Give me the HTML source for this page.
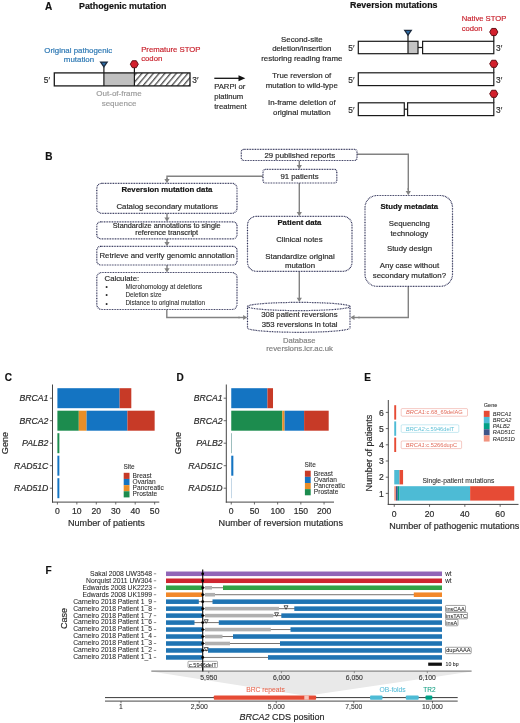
<!DOCTYPE html>
<html><head><meta charset="utf-8"><title>Figure</title>
<style>
html,body{margin:0;padding:0;background:#fff;}
body{width:520px;height:723px;overflow:hidden;}
svg{display:block;font-family:"Liberation Sans",Arial,Helvetica,sans-serif;}
text{stroke:currentColor;stroke-width:0.18px;paint-order:stroke fill;}
text.s{stroke-width:0.07px;}
</style></head><body>
<svg width="520" height="723" viewBox="0 0 520 723">
<defs>
<pattern id="hatch" width="4.4" height="4.4" patternUnits="userSpaceOnUse" patternTransform="translate(1.5 0) rotate(40)">
<rect width="4.4" height="4.4" fill="#fff"/><line x1="0.7" y1="0" x2="0.7" y2="4.4" stroke="#303030" stroke-width="1.1"/>
</pattern>
<clipPath id="hc"><rect x="134.5" y="72.5" width="55.5" height="14"/></clipPath>
</defs>
<rect width="520" height="723" fill="#fff"/>

<g id="panelA">
<text x="45" y="9.6" font-size="10" font-weight="bold" fill="#111" color="#111">A</text>
<text x="79" y="8.6" font-size="8.85" font-weight="bold" fill="#111" color="#111">Pathogenic mutation</text>
<text x="350" y="8.0" font-size="8.85" font-weight="bold" fill="#111" color="#111">Reversion mutations</text>
<text x="78.3" y="53" font-size="7.9" text-anchor="middle" fill="#2b77b3" color="#2b77b3">Original pathogenic</text>
<text x="79" y="62.3" font-size="7.9" text-anchor="middle" fill="#2b77b3" color="#2b77b3">mutation</text>
<text x="141.2" y="52" font-size="7.75" fill="#c9242f" color="#c9242f">Premature STOP</text>
<text x="141.2" y="61.3" font-size="7.75" fill="#c9242f" color="#c9242f">codon</text>
<text x="119" y="96" font-size="8" text-anchor="middle" fill="#9b9b9b" color="#9b9b9b">Out-of-frame</text>
<text x="119" y="105.5" font-size="8" text-anchor="middle" fill="#9b9b9b" color="#9b9b9b">sequence</text>
<text x="43.8" y="83.2" font-size="8.3" fill="#2a2a2a" color="#2a2a2a">5′</text>
<text x="192.3" y="83.2" font-size="8.3" fill="#2a2a2a" color="#2a2a2a">3′</text>
<rect x="134.50" y="72.90" width="55.50" height="13.00" fill="url(#hatch)"/>
<rect x="103.90" y="72.90" width="30.60" height="13.00" fill="#c0c0c0"/>
<rect x="54.30" y="72.90" width="135.70" height="13.00" fill="none" stroke="#1a1a1a" stroke-width="1.3"/>
<line x1="103.90" y1="67.00" x2="103.90" y2="85.90" stroke="#1a1a1a" stroke-width="1.2"/>
<line x1="134.40" y1="68.00" x2="134.40" y2="85.90" stroke="#1a1a1a" stroke-width="1.2"/>
<polygon points="100.60,62.00 107.20,62.00 103.90,66.90" fill="#2d6ca5" stroke="#1b2a3e" stroke-width="1.25" stroke-linejoin="miter"/>
<polygon points="138.30,64.20 136.30,67.66 132.30,67.66 130.30,64.20 132.30,60.74 136.30,60.74" fill="#d3202d" stroke="#5e0c12" stroke-width="0.95"/>
<line x1="214.30" y1="78.30" x2="240.00" y2="78.30" stroke="#111" stroke-width="1.3"/>
<polygon points="238.5,75.3 245.3,78.3 238.5,81.3" fill="#111"/>
<text x="214.2" y="88.9" font-size="7.7" fill="#2a2a2a" color="#2a2a2a">PARPi or</text>
<text x="214.2" y="98.8" font-size="7.7" fill="#2a2a2a" color="#2a2a2a">platinum</text>
<text x="214.2" y="108.5" font-size="7.7" fill="#2a2a2a" color="#2a2a2a">treatment</text>
<text x="301.8" y="41.8" font-size="7.85" text-anchor="middle" fill="#2a2a2a" color="#2a2a2a">Second-site</text>
<text x="301.8" y="51.3" font-size="7.85" text-anchor="middle" fill="#2a2a2a" color="#2a2a2a">deletion/insertion</text>
<text x="301.8" y="60.8" font-size="7.85" text-anchor="middle" fill="#2a2a2a" color="#2a2a2a">restoring reading frame</text>
<text x="301.8" y="77.5" font-size="7.85" text-anchor="middle" fill="#2a2a2a" color="#2a2a2a">True reversion of</text>
<text x="301.8" y="87.5" font-size="7.85" text-anchor="middle" fill="#2a2a2a" color="#2a2a2a">mutation to wild-type</text>
<text x="301.8" y="105.2" font-size="7.85" text-anchor="middle" fill="#2a2a2a" color="#2a2a2a">In-frame deletion of</text>
<text x="301.8" y="115.2" font-size="7.85" text-anchor="middle" fill="#2a2a2a" color="#2a2a2a">original mutation</text>
<text x="461.8" y="21.3" font-size="7.65" fill="#c9242f" color="#c9242f">Native STOP</text>
<text x="461.8" y="30.6" font-size="7.65" fill="#c9242f" color="#c9242f">codon</text>
<text x="348.3" y="50.5" font-size="8.3" fill="#2a2a2a" color="#2a2a2a">5′</text>
<text x="496.1" y="50.5" font-size="8.3" fill="#2a2a2a" color="#2a2a2a">3′</text>
<text x="348.3" y="82.5" font-size="8.3" fill="#2a2a2a" color="#2a2a2a">5′</text>
<text x="496.1" y="82.5" font-size="8.3" fill="#2a2a2a" color="#2a2a2a">3′</text>
<text x="348.3" y="112.5" font-size="8.3" fill="#2a2a2a" color="#2a2a2a">5′</text>
<text x="496.1" y="112.5" font-size="8.3" fill="#2a2a2a" color="#2a2a2a">3′</text>
<rect x="408.00" y="41.30" width="10.00" height="12.40" fill="#c4c4c4"/>
<rect x="358.30" y="41.30" width="59.70" height="12.40" fill="none" stroke="#1a1a1a" stroke-width="1.2"/>
<line x1="408.00" y1="35.00" x2="408.00" y2="53.70" stroke="#1a1a1a" stroke-width="1.2"/>
<line x1="418.00" y1="47.50" x2="422.60" y2="47.50" stroke="#1a1a1a" stroke-width="1.2"/>
<rect x="422.60" y="41.30" width="71.20" height="12.40" fill="none" stroke="#1a1a1a" stroke-width="1.2"/>
<polygon points="404.70,30.30 411.30,30.30 408.00,35.20" fill="#2d6ca5" stroke="#1b2a3e" stroke-width="1.25" stroke-linejoin="miter"/>
<line x1="493.80" y1="35.00" x2="493.80" y2="41.30" stroke="#1a1a1a" stroke-width="1.2"/>
<polygon points="497.90,32.00 495.85,35.55 491.75,35.55 489.70,32.00 491.75,28.45 495.85,28.45" fill="#d3202d" stroke="#5e0c12" stroke-width="0.95"/>
<rect x="358.30" y="72.80" width="135.50" height="12.80" fill="none" stroke="#1a1a1a" stroke-width="1.2"/>
<line x1="493.80" y1="67.00" x2="493.80" y2="72.80" stroke="#1a1a1a" stroke-width="1.2"/>
<polygon points="497.90,63.80 495.85,67.35 491.75,67.35 489.70,63.80 491.75,60.25 495.85,60.25" fill="#d3202d" stroke="#5e0c12" stroke-width="0.95"/>
<rect x="358.30" y="102.80" width="46.00" height="12.80" fill="none" stroke="#1a1a1a" stroke-width="1.2"/>
<line x1="404.30" y1="109.20" x2="407.60" y2="109.20" stroke="#1a1a1a" stroke-width="1.2"/>
<rect x="407.60" y="102.80" width="86.20" height="12.80" fill="none" stroke="#1a1a1a" stroke-width="1.2"/>
<line x1="493.80" y1="97.00" x2="493.80" y2="102.80" stroke="#1a1a1a" stroke-width="1.2"/>
<polygon points="497.90,93.80 495.85,97.35 491.75,97.35 489.70,93.80 491.75,90.25 495.85,90.25" fill="#d3202d" stroke="#5e0c12" stroke-width="0.95"/>
</g>
<g id="panelB">
<text x="45.3" y="160.1" font-size="10" font-weight="bold" fill="#111" color="#111">B</text>
<line x1="299.30" y1="160.50" x2="299.30" y2="166.30" stroke="#828282" stroke-width="1.4"/>
<polygon points="296.70,165.10 301.90,165.10 299.30,169.30" fill="#828282"/>
<polyline points="263,176.2 167,176.2 167,180" fill="none" stroke="#828282" stroke-width="1.4"/>
<line x1="167.00" y1="178.00" x2="167.00" y2="180.20" stroke="#828282" stroke-width="1.4"/>
<polygon points="164.40,179.00 169.60,179.00 167.00,183.20" fill="#828282"/>
<line x1="167.00" y1="213.30" x2="167.00" y2="218.70" stroke="#828282" stroke-width="1.4"/>
<polygon points="164.40,217.50 169.60,217.50 167.00,221.70" fill="#828282"/>
<line x1="167.00" y1="238.80" x2="167.00" y2="243.20" stroke="#828282" stroke-width="1.4"/>
<polygon points="164.40,242.00 169.60,242.00 167.00,246.20" fill="#828282"/>
<line x1="167.00" y1="265.00" x2="167.00" y2="269.50" stroke="#828282" stroke-width="1.4"/>
<polygon points="164.40,268.30 169.60,268.30 167.00,272.50" fill="#828282"/>
<line x1="299.30" y1="183.00" x2="299.30" y2="213.20" stroke="#828282" stroke-width="1.4"/>
<polygon points="296.70,212.00 301.90,212.00 299.30,216.20" fill="#828282"/>
<line x1="299.30" y1="271.30" x2="299.30" y2="299.00" stroke="#828282" stroke-width="1.4"/>
<polygon points="296.70,297.80 301.90,297.80 299.30,302.00" fill="#828282"/>
<polyline points="357,154.3 408.3,154.3 408.3,190" fill="none" stroke="#828282" stroke-width="1.4"/>
<line x1="408.30" y1="188.00" x2="408.30" y2="192.30" stroke="#828282" stroke-width="1.4"/>
<polygon points="405.70,191.10 410.90,191.10 408.30,195.30" fill="#828282"/>
<polyline points="166.8,309.5 166.8,317.5 240,317.5" fill="none" stroke="#828282" stroke-width="1.4"/>
<line x1="238.00" y1="317.50" x2="244.30" y2="317.50" stroke="#828282" stroke-width="1.4"/>
<polygon points="243.10,314.90 243.10,320.10 247.30,317.50" fill="#828282"/>
<polyline points="408.3,286.3 408.3,317.5 358,317.5" fill="none" stroke="#828282" stroke-width="1.4"/>
<line x1="360.00" y1="317.50" x2="353.30" y2="317.50" stroke="#828282" stroke-width="1.4"/>
<polygon points="354.50,314.90 354.50,320.10 350.30,317.50" fill="#828282"/>
<rect x="241.30" y="149.30" width="115.70" height="11.20" rx="2.5" fill="#fff" stroke="#25274f" stroke-width="1.2" stroke-dasharray="0.85 0.77"/>
<text x="299.8" y="157.6" font-size="7.8" text-anchor="middle" fill="#2a2a2a" color="#2a2a2a">29 published reports</text>
<rect x="263.00" y="169.30" width="73.80" height="13.70" rx="2.5" fill="#fff" stroke="#25274f" stroke-width="1.2" stroke-dasharray="0.85 0.77"/>
<text x="299.5" y="178.8" font-size="7.8" text-anchor="middle" fill="#2a2a2a" color="#2a2a2a">91 patients</text>
<rect x="96.80" y="183.30" width="140.20" height="30.00" rx="5" fill="#fff" stroke="#25274f" stroke-width="1.2" stroke-dasharray="0.85 0.77"/>
<text x="166.9" y="192.1" font-size="7.8" text-anchor="middle" font-weight="bold" fill="#111" color="#111">Reversion mutation data</text>
<text x="167.2" y="208.8" font-size="7.85" text-anchor="middle" fill="#2a2a2a" color="#2a2a2a">Catalog secondary mutations</text>
<rect x="96.80" y="221.80" width="140.20" height="17.00" rx="4" fill="#fff" stroke="#25274f" stroke-width="1.2" stroke-dasharray="0.85 0.77"/>
<text x="166.7" y="228.3" font-size="7.3" text-anchor="middle" fill="#2a2a2a" color="#2a2a2a">Standardize annotations to single</text>
<text x="166.7" y="235.2" font-size="7.3" text-anchor="middle" fill="#2a2a2a" color="#2a2a2a">reference transcript</text>
<rect x="96.80" y="246.30" width="140.20" height="18.70" rx="4" fill="#fff" stroke="#25274f" stroke-width="1.2" stroke-dasharray="0.85 0.77"/>
<text x="167.1" y="257.6" font-size="7.8" text-anchor="middle" fill="#2a2a2a" color="#2a2a2a">Retrieve and verify genomic annotation</text>
<rect x="96.80" y="272.50" width="140.20" height="37.00" rx="5" fill="#fff" stroke="#25274f" stroke-width="1.2" stroke-dasharray="0.85 0.77"/>
<text x="104.5" y="280.8" font-size="7.8" fill="#2a2a2a" color="#2a2a2a">Calculate:</text>
<text x="105.6" y="289.1" font-size="6.5" fill="#2a2a2a" color="#2a2a2a" class="s">•</text>
<text x="125.5" y="288.8" font-size="6.3" fill="#2a2a2a" color="#2a2a2a" class="s">Microhomology at deletions</text>
<text x="105.6" y="297.40000000000003" font-size="6.5" fill="#2a2a2a" color="#2a2a2a" class="s">•</text>
<text x="125.5" y="297.1" font-size="6.3" fill="#2a2a2a" color="#2a2a2a" class="s">Deletion size</text>
<text x="105.6" y="305.70000000000005" font-size="6.5" fill="#2a2a2a" color="#2a2a2a" class="s">•</text>
<text x="125.5" y="305.40000000000003" font-size="6.3" fill="#2a2a2a" color="#2a2a2a" class="s">Distance to original mutation</text>
<rect x="247.50" y="216.30" width="104.50" height="55.00" rx="9" fill="#fff" stroke="#25274f" stroke-width="1.2" stroke-dasharray="0.85 0.77"/>
<text x="299.4" y="225.1" font-size="7.75" text-anchor="middle" font-weight="bold" fill="#111" color="#111">Patient data</text>
<text x="299.4" y="241.8" font-size="7.8" text-anchor="middle" fill="#2a2a2a" color="#2a2a2a">Clinical notes</text>
<text x="300" y="258.8" font-size="7.85" text-anchor="middle" fill="#2a2a2a" color="#2a2a2a">Standardize original</text>
<text x="300" y="268.2" font-size="7.85" text-anchor="middle" fill="#2a2a2a" color="#2a2a2a">mutation</text>
<rect x="365.00" y="195.50" width="87.50" height="90.80" rx="12" fill="#fff" stroke="#25274f" stroke-width="1.2" stroke-dasharray="0.85 0.77"/>
<text x="409.3" y="209.3" font-size="7.75" text-anchor="middle" font-weight="bold" fill="#111" color="#111">Study metadata</text>
<text x="409.3" y="225.8" font-size="7.8" text-anchor="middle" fill="#2a2a2a" color="#2a2a2a">Sequencing</text>
<text x="409.3" y="235.8" font-size="7.8" text-anchor="middle" fill="#2a2a2a" color="#2a2a2a">technology</text>
<text x="409.5" y="251.3" font-size="7.8" text-anchor="middle" fill="#2a2a2a" color="#2a2a2a">Study design</text>
<text x="409.5" y="267.6" font-size="7.85" text-anchor="middle" fill="#2a2a2a" color="#2a2a2a">Any case without</text>
<text x="409.4" y="277.6" font-size="7.9" text-anchor="middle" fill="#2a2a2a" color="#2a2a2a">secondary mutation?</text>
<path d="M247.5,306.5 L247.5,328 A51.25,4.3 0 0 0 350,328 L350,306.5" fill="#fff" stroke="#25274f" stroke-width="1.2" stroke-dasharray="0.85 0.77"/>
<ellipse cx="298.75" cy="306.5" rx="51.25" ry="4.1" fill="#fff" stroke="#25274f" stroke-width="1.2" stroke-dasharray="0.85 0.77"/>
<text x="299.4" y="317.2" font-size="7.75" text-anchor="middle" fill="#2a2a2a" color="#2a2a2a">308 patient reversions</text>
<text x="299.6" y="327.2" font-size="7.75" text-anchor="middle" fill="#2a2a2a" color="#2a2a2a">353 reversions in total</text>
<text x="299.3" y="342.6" font-size="7.6" text-anchor="middle" fill="#808080" color="#808080">Database</text>
<text x="299.6" y="351.4" font-size="7.8" text-anchor="middle" fill="#808080" color="#808080">reversions.icr.ac.uk</text>
</g>
<g id="panelC">
<text x="4.8" y="381.3" font-size="10" font-weight="bold" fill="#111" color="#111">C</text>
<text x="48.4" y="401.2" font-size="8.7" text-anchor="end" font-style="italic" fill="#2a2a2a" color="#2a2a2a">BRCA1</text>
<line x1="49.90" y1="398.20" x2="52.50" y2="398.20" stroke="#454545" stroke-width="0.8"/>
<rect x="57.40" y="388.20" width="62.24" height="20.00" fill="#1474c2"/>
<rect x="119.64" y="388.20" width="11.67" height="20.00" fill="#c73a27"/>
<text x="48.4" y="423.7" font-size="8.7" text-anchor="end" font-style="italic" fill="#2a2a2a" color="#2a2a2a">BRCA2</text>
<line x1="49.90" y1="420.70" x2="52.50" y2="420.70" stroke="#454545" stroke-width="0.8"/>
<rect x="57.40" y="410.70" width="21.39" height="20.00" fill="#1c8c4e"/>
<rect x="78.80" y="410.70" width="7.78" height="20.00" fill="#e98e28"/>
<rect x="86.58" y="410.70" width="40.84" height="20.00" fill="#1474c2"/>
<rect x="127.42" y="410.70" width="27.23" height="20.00" fill="#c73a27"/>
<text x="48.4" y="446.2" font-size="8.7" text-anchor="end" font-style="italic" fill="#2a2a2a" color="#2a2a2a">PALB2</text>
<line x1="49.90" y1="443.20" x2="52.50" y2="443.20" stroke="#454545" stroke-width="0.8"/>
<rect x="57.40" y="433.20" width="1.95" height="20.00" fill="#1c8c4e"/>
<text x="48.4" y="468.7" font-size="8.7" text-anchor="end" font-style="italic" fill="#2a2a2a" color="#2a2a2a">RAD51C</text>
<line x1="49.90" y1="465.70" x2="52.50" y2="465.70" stroke="#454545" stroke-width="0.8"/>
<rect x="57.40" y="455.70" width="1.95" height="20.00" fill="#1474c2"/>
<text x="48.4" y="491.2" font-size="8.7" text-anchor="end" font-style="italic" fill="#2a2a2a" color="#2a2a2a">RAD51D</text>
<line x1="49.90" y1="488.20" x2="52.50" y2="488.20" stroke="#454545" stroke-width="0.8"/>
<rect x="57.40" y="478.20" width="1.95" height="20.00" fill="#1474c2"/>
<line x1="52.50" y1="384.50" x2="52.50" y2="502.60" stroke="#454545" stroke-width="1.0"/>
<line x1="52.00" y1="502.10" x2="159.30" y2="502.10" stroke="#454545" stroke-width="1.0"/>
<line x1="57.40" y1="502.10" x2="57.40" y2="504.50" stroke="#454545" stroke-width="0.8"/>
<text x="57.4" y="513.7" font-size="8.6" text-anchor="middle" fill="#2a2a2a" color="#2a2a2a">0</text>
<line x1="76.85" y1="502.10" x2="76.85" y2="504.50" stroke="#454545" stroke-width="0.8"/>
<text x="76.85" y="513.7" font-size="8.6" text-anchor="middle" fill="#2a2a2a" color="#2a2a2a">10</text>
<line x1="96.30" y1="502.10" x2="96.30" y2="504.50" stroke="#454545" stroke-width="0.8"/>
<text x="96.3" y="513.7" font-size="8.6" text-anchor="middle" fill="#2a2a2a" color="#2a2a2a">20</text>
<line x1="115.75" y1="502.10" x2="115.75" y2="504.50" stroke="#454545" stroke-width="0.8"/>
<text x="115.75" y="513.7" font-size="8.6" text-anchor="middle" fill="#2a2a2a" color="#2a2a2a">30</text>
<line x1="135.20" y1="502.10" x2="135.20" y2="504.50" stroke="#454545" stroke-width="0.8"/>
<text x="135.2" y="513.7" font-size="8.6" text-anchor="middle" fill="#2a2a2a" color="#2a2a2a">40</text>
<line x1="154.65" y1="502.10" x2="154.65" y2="504.50" stroke="#454545" stroke-width="0.8"/>
<text x="154.65" y="513.7" font-size="8.6" text-anchor="middle" fill="#2a2a2a" color="#2a2a2a">50</text>
<text x="68" y="525.9" font-size="9.1" fill="#2a2a2a" color="#2a2a2a">Number of patients</text>
<text transform="translate(7.6,443) rotate(-90)" font-size="9.1" text-anchor="middle" fill="#2a2a2a" color="#2a2a2a">Gene</text>
<text x="123.4" y="468.8" font-size="6.5" fill="#2a2a2a" color="#2a2a2a" class="s">Site</text>
<rect x="123.70" y="472.80" width="5.80" height="6.15" fill="#c73a27"/>
<text x="132.6" y="478.0" font-size="6.6" fill="#2a2a2a" color="#2a2a2a" class="s">Breast</text>
<rect x="123.70" y="478.95" width="5.80" height="6.15" fill="#1474c2"/>
<text x="132.6" y="484.15" font-size="6.6" fill="#2a2a2a" color="#2a2a2a" class="s">Ovarian</text>
<rect x="123.70" y="485.10" width="5.80" height="6.15" fill="#e98e28"/>
<text x="132.6" y="490.3" font-size="6.6" fill="#2a2a2a" color="#2a2a2a" class="s">Pancreatic</text>
<rect x="123.70" y="491.25" width="5.80" height="6.15" fill="#1c8c4e"/>
<text x="132.6" y="496.45" font-size="6.6" fill="#2a2a2a" color="#2a2a2a" class="s">Prostate</text>
</g>
<g id="panelD">
<text x="176.6" y="381.3" font-size="10" font-weight="bold" fill="#111" color="#111">D</text>
<text x="222.6" y="401.2" font-size="8.7" text-anchor="end" font-style="italic" fill="#2a2a2a" color="#2a2a2a">BRCA1</text>
<line x1="223.70" y1="398.20" x2="226.30" y2="398.20" stroke="#454545" stroke-width="0.8"/>
<rect x="231.25" y="388.20" width="36.19" height="20.00" fill="#1474c2"/>
<rect x="267.44" y="388.20" width="5.57" height="20.00" fill="#c73a27"/>
<text x="222.6" y="423.7" font-size="8.7" text-anchor="end" font-style="italic" fill="#2a2a2a" color="#2a2a2a">BRCA2</text>
<line x1="223.70" y1="420.70" x2="226.30" y2="420.70" stroke="#454545" stroke-width="0.8"/>
<rect x="231.25" y="410.70" width="51.04" height="20.00" fill="#1c8c4e"/>
<rect x="282.29" y="410.70" width="2.32" height="20.00" fill="#e98e28"/>
<rect x="284.61" y="410.70" width="19.49" height="20.00" fill="#1474c2"/>
<rect x="304.10" y="410.70" width="24.59" height="20.00" fill="#c73a27"/>
<text x="222.6" y="446.2" font-size="8.7" text-anchor="end" font-style="italic" fill="#2a2a2a" color="#2a2a2a">PALB2</text>
<line x1="223.70" y1="443.20" x2="226.30" y2="443.20" stroke="#454545" stroke-width="0.8"/>
<rect x="231.25" y="433.20" width="0.56" height="20.00" fill="#4f8a8a"/>
<text x="222.6" y="468.7" font-size="8.7" text-anchor="end" font-style="italic" fill="#2a2a2a" color="#2a2a2a">RAD51C</text>
<line x1="223.70" y1="465.70" x2="226.30" y2="465.70" stroke="#454545" stroke-width="0.8"/>
<rect x="231.25" y="455.70" width="2.09" height="20.00" fill="#1474c2"/>
<text x="222.6" y="491.2" font-size="8.7" text-anchor="end" font-style="italic" fill="#2a2a2a" color="#2a2a2a">RAD51D</text>
<line x1="223.70" y1="488.20" x2="226.30" y2="488.20" stroke="#454545" stroke-width="0.8"/>
<rect x="231.25" y="478.20" width="0.46" height="20.00" fill="#7fa8c9"/>
<line x1="226.30" y1="384.50" x2="226.30" y2="502.60" stroke="#454545" stroke-width="1.0"/>
<line x1="225.80" y1="502.10" x2="334.00" y2="502.10" stroke="#454545" stroke-width="1.0"/>
<line x1="231.25" y1="502.10" x2="231.25" y2="504.50" stroke="#454545" stroke-width="0.8"/>
<text x="231.25" y="513.7" font-size="8.6" text-anchor="middle" fill="#2a2a2a" color="#2a2a2a">0</text>
<line x1="254.45" y1="502.10" x2="254.45" y2="504.50" stroke="#454545" stroke-width="0.8"/>
<text x="254.45" y="513.7" font-size="8.6" text-anchor="middle" fill="#2a2a2a" color="#2a2a2a">50</text>
<line x1="277.65" y1="502.10" x2="277.65" y2="504.50" stroke="#454545" stroke-width="0.8"/>
<text x="277.65" y="513.7" font-size="8.6" text-anchor="middle" fill="#2a2a2a" color="#2a2a2a">100</text>
<line x1="300.85" y1="502.10" x2="300.85" y2="504.50" stroke="#454545" stroke-width="0.8"/>
<text x="300.85" y="513.7" font-size="8.6" text-anchor="middle" fill="#2a2a2a" color="#2a2a2a">150</text>
<line x1="324.05" y1="502.10" x2="324.05" y2="504.50" stroke="#454545" stroke-width="0.8"/>
<text x="324.05" y="513.7" font-size="8.6" text-anchor="middle" fill="#2a2a2a" color="#2a2a2a">200</text>
<text x="218.6" y="525.9" font-size="9.1" fill="#2a2a2a" color="#2a2a2a">Number of reversion mutations</text>
<text transform="translate(181.1,443) rotate(-90)" font-size="9.1" text-anchor="middle" fill="#2a2a2a" color="#2a2a2a">Gene</text>
<text x="304.6" y="466.7" font-size="6.5" fill="#2a2a2a" color="#2a2a2a" class="s">Site</text>
<rect x="304.90" y="470.70" width="5.80" height="6.15" fill="#c73a27"/>
<text x="313.8" y="475.9" font-size="6.6" fill="#2a2a2a" color="#2a2a2a" class="s">Breast</text>
<rect x="304.90" y="476.85" width="5.80" height="6.15" fill="#1474c2"/>
<text x="313.8" y="482.04999999999995" font-size="6.6" fill="#2a2a2a" color="#2a2a2a" class="s">Ovarian</text>
<rect x="304.90" y="483.00" width="5.80" height="6.15" fill="#e98e28"/>
<text x="313.8" y="488.2" font-size="6.6" fill="#2a2a2a" color="#2a2a2a" class="s">Pancreatic</text>
<rect x="304.90" y="489.15" width="5.80" height="6.15" fill="#1c8c4e"/>
<text x="313.8" y="494.34999999999997" font-size="6.6" fill="#2a2a2a" color="#2a2a2a" class="s">Prostate</text>
</g>
<g id="panelE">
<text x="364.2" y="381.3" font-size="10" font-weight="bold" fill="#111" color="#111">E</text>
<rect x="394.25" y="405.20" width="1.91" height="14.40" fill="#E64B35"/>
<rect x="394.25" y="421.40" width="1.91" height="14.40" fill="#4DBBD5"/>
<rect x="394.25" y="437.60" width="1.91" height="14.40" fill="#E64B35"/>
<rect x="394.25" y="470.00" width="5.29" height="14.40" fill="#4DBBD5"/>
<rect x="399.55" y="470.00" width="3.53" height="14.40" fill="#E64B35"/>
<rect x="394.25" y="486.20" width="1.76" height="14.40" fill="#f1937f"/>
<rect x="396.01" y="486.20" width="1.76" height="14.40" fill="#3C5488"/>
<rect x="397.78" y="486.20" width="1.76" height="14.40" fill="#00A087"/>
<rect x="399.55" y="486.20" width="70.60" height="14.40" fill="#4DBBD5"/>
<rect x="470.14" y="486.20" width="44.12" height="14.40" fill="#E64B35"/>
<line x1="385.80" y1="493.40" x2="388.30" y2="493.40" stroke="#454545" stroke-width="0.8"/>
<text x="381.3" y="496.5" font-size="8.6" text-anchor="middle" fill="#2a2a2a" color="#2a2a2a">1</text>
<line x1="385.80" y1="477.20" x2="388.30" y2="477.20" stroke="#454545" stroke-width="0.8"/>
<text x="381.3" y="480.3" font-size="8.6" text-anchor="middle" fill="#2a2a2a" color="#2a2a2a">2</text>
<line x1="385.80" y1="461.00" x2="388.30" y2="461.00" stroke="#454545" stroke-width="0.8"/>
<text x="381.3" y="464.1" font-size="8.6" text-anchor="middle" fill="#2a2a2a" color="#2a2a2a">3</text>
<line x1="385.80" y1="444.80" x2="388.30" y2="444.80" stroke="#454545" stroke-width="0.8"/>
<text x="381.3" y="447.9" font-size="8.6" text-anchor="middle" fill="#2a2a2a" color="#2a2a2a">4</text>
<line x1="385.80" y1="428.60" x2="388.30" y2="428.60" stroke="#454545" stroke-width="0.8"/>
<text x="381.3" y="431.7" font-size="8.6" text-anchor="middle" fill="#2a2a2a" color="#2a2a2a">5</text>
<line x1="385.80" y1="412.40" x2="388.30" y2="412.40" stroke="#454545" stroke-width="0.8"/>
<text x="381.3" y="415.5" font-size="8.6" text-anchor="middle" fill="#2a2a2a" color="#2a2a2a">6</text>
<line x1="388.30" y1="400.00" x2="388.30" y2="504.95" stroke="#454545" stroke-width="1.0"/>
<line x1="387.75" y1="504.40" x2="518.50" y2="504.40" stroke="#454545" stroke-width="1.0"/>
<line x1="394.25" y1="504.40" x2="394.25" y2="506.80" stroke="#454545" stroke-width="0.8"/>
<text x="394.25" y="516.6" font-size="8.6" text-anchor="middle" fill="#2a2a2a" color="#2a2a2a">0</text>
<line x1="429.55" y1="504.40" x2="429.55" y2="506.80" stroke="#454545" stroke-width="0.8"/>
<text x="429.55" y="516.6" font-size="8.6" text-anchor="middle" fill="#2a2a2a" color="#2a2a2a">20</text>
<line x1="464.85" y1="504.40" x2="464.85" y2="506.80" stroke="#454545" stroke-width="0.8"/>
<text x="464.85" y="516.6" font-size="8.6" text-anchor="middle" fill="#2a2a2a" color="#2a2a2a">40</text>
<line x1="500.15" y1="504.40" x2="500.15" y2="506.80" stroke="#454545" stroke-width="0.8"/>
<text x="500.15" y="516.6" font-size="8.6" text-anchor="middle" fill="#2a2a2a" color="#2a2a2a">60</text>
<text x="454.2" y="529.1" font-size="9.0" text-anchor="middle" fill="#2a2a2a" color="#2a2a2a">Number of pathogenic mutations</text>
<text transform="translate(372.1,453) rotate(-90)" font-size="9.1" text-anchor="middle" fill="#2a2a2a" color="#2a2a2a">Number of patients</text>
<rect x="401.20" y="408.60" width="66.30" height="7.60" fill="#fff" stroke="#e26b5a" stroke-width="0.6" rx="1" stroke-opacity="0.6"/>
<text x="434.35" y="414.40" font-size="5.7" text-anchor="middle" fill="#e26b5a" style="stroke-width:0"><tspan font-style="italic">BRCA1</tspan>:c.68_69delAG</text>
<rect x="401.20" y="424.80" width="57.60" height="7.60" fill="#fff" stroke="#62c2d8" stroke-width="0.6" rx="1" stroke-opacity="0.6"/>
<text x="430.00" y="430.60" font-size="5.7" text-anchor="middle" fill="#62c2d8" style="stroke-width:0"><tspan font-style="italic">BRCA2</tspan>:c.5946delT</text>
<rect x="401.20" y="441.00" width="60.40" height="7.60" fill="#fff" stroke="#e26b5a" stroke-width="0.6" rx="1" stroke-opacity="0.6"/>
<text x="431.40" y="446.80" font-size="5.7" text-anchor="middle" fill="#e26b5a" style="stroke-width:0"><tspan font-style="italic">BRCA1</tspan>:c.5266dupC</text>
<text x="422.5" y="482.6" font-size="6.7" fill="#2a2a2a" color="#2a2a2a" class="s">Single-patient mutations</text>
<text x="483.8" y="406.7" font-size="5.5" fill="#2a2a2a" color="#2a2a2a" class="s">Gene</text>
<rect x="483.80" y="410.80" width="5.80" height="6.15" fill="#E64B35"/>
<text x="492.8" y="416.0" font-size="5.6" font-style="italic" fill="#2a2a2a" color="#2a2a2a" class="s">BRCA1</text>
<rect x="483.80" y="416.95" width="5.80" height="6.15" fill="#4DBBD5"/>
<text x="492.8" y="422.15" font-size="5.6" font-style="italic" fill="#2a2a2a" color="#2a2a2a" class="s">BRCA2</text>
<rect x="483.80" y="423.10" width="5.80" height="6.15" fill="#00A087"/>
<text x="492.8" y="428.3" font-size="5.6" font-style="italic" fill="#2a2a2a" color="#2a2a2a" class="s">PALB2</text>
<rect x="483.80" y="429.25" width="5.80" height="6.15" fill="#3C5488"/>
<text x="492.8" y="434.45" font-size="5.6" font-style="italic" fill="#2a2a2a" color="#2a2a2a" class="s">RAD51C</text>
<rect x="483.80" y="435.40" width="5.80" height="6.15" fill="#f1937f"/>
<text x="492.8" y="440.6" font-size="5.6" font-style="italic" fill="#2a2a2a" color="#2a2a2a" class="s">RAD51D</text>
</g>
<g id="panelF">
<text x="45.4" y="573.8" font-size="10" font-weight="bold" fill="#111" color="#111">F</text>
<text x="152" y="575.6999999999999" font-size="6.75" text-anchor="end" fill="#2a2a2a" color="#2a2a2a" class="s">Sakai 2008 UW3548</text>
<line x1="153.80" y1="573.80" x2="156.20" y2="573.80" stroke="#454545" stroke-width="0.6"/>
<text x="152" y="582.67" font-size="6.75" text-anchor="end" fill="#2a2a2a" color="#2a2a2a" class="s">Norquist 2011 UW304</text>
<line x1="153.80" y1="580.77" x2="156.20" y2="580.77" stroke="#454545" stroke-width="0.6"/>
<text x="152" y="589.64" font-size="6.75" text-anchor="end" fill="#2a2a2a" color="#2a2a2a" class="s">Edwards 2008 UK2223</text>
<line x1="153.80" y1="587.74" x2="156.20" y2="587.74" stroke="#454545" stroke-width="0.6"/>
<text x="152" y="596.6099999999999" font-size="6.75" text-anchor="end" fill="#2a2a2a" color="#2a2a2a" class="s">Edwards 2008 UK1999</text>
<line x1="153.80" y1="594.71" x2="156.20" y2="594.71" stroke="#454545" stroke-width="0.6"/>
<text x="152" y="603.5799999999999" font-size="6.75" text-anchor="end" fill="#2a2a2a" color="#2a2a2a" class="s">Carneiro 2018 Patient 1_9</text>
<line x1="153.80" y1="601.68" x2="156.20" y2="601.68" stroke="#454545" stroke-width="0.6"/>
<text x="152" y="610.55" font-size="6.75" text-anchor="end" fill="#2a2a2a" color="#2a2a2a" class="s">Carneiro 2018 Patient 1_8</text>
<line x1="153.80" y1="608.65" x2="156.20" y2="608.65" stroke="#454545" stroke-width="0.6"/>
<text x="152" y="617.52" font-size="6.75" text-anchor="end" fill="#2a2a2a" color="#2a2a2a" class="s">Carneiro 2018 Patient 1_7</text>
<line x1="153.80" y1="615.62" x2="156.20" y2="615.62" stroke="#454545" stroke-width="0.6"/>
<text x="152" y="624.4899999999999" font-size="6.75" text-anchor="end" fill="#2a2a2a" color="#2a2a2a" class="s">Carneiro 2018 Patient 1_6</text>
<line x1="153.80" y1="622.59" x2="156.20" y2="622.59" stroke="#454545" stroke-width="0.6"/>
<text x="152" y="631.4599999999999" font-size="6.75" text-anchor="end" fill="#2a2a2a" color="#2a2a2a" class="s">Carneiro 2018 Patient 1_5</text>
<line x1="153.80" y1="629.56" x2="156.20" y2="629.56" stroke="#454545" stroke-width="0.6"/>
<text x="152" y="638.43" font-size="6.75" text-anchor="end" fill="#2a2a2a" color="#2a2a2a" class="s">Carneiro 2018 Patient 1_4</text>
<line x1="153.80" y1="636.53" x2="156.20" y2="636.53" stroke="#454545" stroke-width="0.6"/>
<text x="152" y="645.4" font-size="6.75" text-anchor="end" fill="#2a2a2a" color="#2a2a2a" class="s">Carneiro 2018 Patient 1_3</text>
<line x1="153.80" y1="643.50" x2="156.20" y2="643.50" stroke="#454545" stroke-width="0.6"/>
<text x="152" y="652.3699999999999" font-size="6.75" text-anchor="end" fill="#2a2a2a" color="#2a2a2a" class="s">Carneiro 2018 Patient 1_2</text>
<line x1="153.80" y1="650.47" x2="156.20" y2="650.47" stroke="#454545" stroke-width="0.6"/>
<text x="152" y="659.3399999999999" font-size="6.75" text-anchor="end" fill="#2a2a2a" color="#2a2a2a" class="s">Carneiro 2018 Patient 1_1</text>
<line x1="153.80" y1="657.44" x2="156.20" y2="657.44" stroke="#454545" stroke-width="0.6"/>
<rect x="166.00" y="571.52" width="276.00" height="4.55" fill="#9166b8"/>
<rect x="166.00" y="578.50" width="276.00" height="4.55" fill="#cf2530"/>
<line x1="166.00" y1="587.74" x2="442.00" y2="587.74" stroke="#4a4440" stroke-width="0.75"/>
<rect x="166.00" y="585.47" width="36.70" height="4.55" fill="#33a148"/>
<rect x="205.00" y="585.94" width="7.00" height="3.60" fill="#b0b0b0"/>
<rect x="223.00" y="585.47" width="219.00" height="4.55" fill="#33a148"/>
<line x1="166.00" y1="594.71" x2="442.00" y2="594.71" stroke="#4a4440" stroke-width="0.75"/>
<rect x="166.00" y="592.43" width="36.70" height="4.55" fill="#f2882a"/>
<rect x="205.00" y="592.91" width="10.00" height="3.60" fill="#b0b0b0"/>
<rect x="413.80" y="592.43" width="28.20" height="4.55" fill="#f2882a"/>
<line x1="166.00" y1="601.68" x2="442.00" y2="601.68" stroke="#4a4440" stroke-width="0.75"/>
<rect x="166.00" y="599.40" width="32.80" height="4.55" fill="#1f74b3"/>
<rect x="212.50" y="599.40" width="229.50" height="4.55" fill="#1f74b3"/>
<line x1="166.00" y1="608.65" x2="442.00" y2="608.65" stroke="#4a4440" stroke-width="0.75"/>
<rect x="166.00" y="606.38" width="36.70" height="4.55" fill="#1f74b3"/>
<rect x="205.00" y="606.85" width="74.00" height="3.60" fill="#b0b0b0"/>
<rect x="294.30" y="606.38" width="147.70" height="4.55" fill="#1f74b3"/>
<polygon points="284.00,605.75 288.00,605.75 286.00,609.35" fill="#fff" stroke="#111" stroke-width="0.7"/>
<line x1="166.00" y1="615.62" x2="442.00" y2="615.62" stroke="#4a4440" stroke-width="0.75"/>
<rect x="166.00" y="613.35" width="36.70" height="4.55" fill="#1f74b3"/>
<rect x="205.00" y="613.82" width="68.30" height="3.60" fill="#b0b0b0"/>
<rect x="281.30" y="613.35" width="160.70" height="4.55" fill="#1f74b3"/>
<polygon points="274.60,612.72 278.60,612.72 276.60,616.32" fill="#fff" stroke="#111" stroke-width="0.7"/>
<line x1="166.00" y1="622.59" x2="442.00" y2="622.59" stroke="#4a4440" stroke-width="0.75"/>
<rect x="166.00" y="620.31" width="28.50" height="4.55" fill="#1f74b3"/>
<rect x="218.80" y="620.31" width="223.20" height="4.55" fill="#1f74b3"/>
<polygon points="204.20,619.69 208.20,619.69 206.20,623.29" fill="#fff" stroke="#111" stroke-width="0.7"/>
<line x1="166.00" y1="629.56" x2="442.00" y2="629.56" stroke="#4a4440" stroke-width="0.75"/>
<rect x="166.00" y="627.28" width="36.70" height="4.55" fill="#1f74b3"/>
<rect x="205.00" y="627.76" width="65.80" height="3.60" fill="#b0b0b0"/>
<rect x="290.50" y="627.28" width="151.50" height="4.55" fill="#1f74b3"/>
<line x1="166.00" y1="636.53" x2="442.00" y2="636.53" stroke="#4a4440" stroke-width="0.75"/>
<rect x="166.00" y="634.25" width="36.70" height="4.55" fill="#1f74b3"/>
<rect x="205.00" y="634.73" width="17.50" height="3.60" fill="#b0b0b0"/>
<rect x="233.00" y="634.25" width="209.00" height="4.55" fill="#1f74b3"/>
<line x1="166.00" y1="643.50" x2="442.00" y2="643.50" stroke="#4a4440" stroke-width="0.75"/>
<rect x="166.00" y="641.23" width="36.70" height="4.55" fill="#1f74b3"/>
<rect x="205.00" y="641.70" width="25.00" height="3.60" fill="#b0b0b0"/>
<rect x="280.00" y="641.23" width="162.00" height="4.55" fill="#1f74b3"/>
<line x1="166.00" y1="650.47" x2="442.00" y2="650.47" stroke="#4a4440" stroke-width="0.75"/>
<rect x="166.00" y="648.19" width="36.70" height="4.55" fill="#1f74b3"/>
<rect x="208.00" y="648.19" width="234.00" height="4.55" fill="#1f74b3"/>
<polygon points="204.20,647.57 208.20,647.57 206.20,651.17" fill="#fff" stroke="#111" stroke-width="0.7"/>
<line x1="166.00" y1="657.44" x2="442.00" y2="657.44" stroke="#4a4440" stroke-width="0.75"/>
<rect x="166.00" y="655.16" width="36.70" height="4.55" fill="#1f74b3"/>
<rect x="268.00" y="655.16" width="174.00" height="4.55" fill="#1f74b3"/>
<line x1="202.70" y1="569.50" x2="202.70" y2="672.50" stroke="#111" stroke-width="1.15"/>
<circle cx="202.7" cy="573.80" r="1.4" fill="#000"/>
<circle cx="202.7" cy="580.77" r="1.4" fill="#000"/>
<circle cx="202.7" cy="587.74" r="1.4" fill="#000"/>
<circle cx="202.7" cy="594.71" r="1.4" fill="#000"/>
<circle cx="202.7" cy="601.68" r="1.4" fill="#000"/>
<circle cx="202.7" cy="608.65" r="1.4" fill="#000"/>
<circle cx="202.7" cy="615.62" r="1.4" fill="#000"/>
<circle cx="202.7" cy="622.59" r="1.4" fill="#000"/>
<circle cx="202.7" cy="629.56" r="1.4" fill="#000"/>
<circle cx="202.7" cy="636.53" r="1.4" fill="#000"/>
<circle cx="202.7" cy="643.50" r="1.4" fill="#000"/>
<circle cx="202.7" cy="650.47" r="1.4" fill="#000"/>
<circle cx="202.7" cy="657.44" r="1.4" fill="#000"/>
<text x="445.3" y="575.6999999999999" font-size="6.3" fill="#2a2a2a" color="#2a2a2a" class="s">wt</text>
<text x="445.3" y="582.67" font-size="6.3" fill="#2a2a2a" color="#2a2a2a" class="s">wt</text>
<rect x="445.50" y="605.45" width="20.00" height="6.40" fill="#fff" stroke="#555" stroke-width="0.55" rx="0.8"/>
<text x="455.5" y="610.65" font-size="5.6" text-anchor="middle" fill="#2a2a2a" color="#2a2a2a" class="s">insCAA</text>
<rect x="445.50" y="612.42" width="22.00" height="6.40" fill="#fff" stroke="#555" stroke-width="0.55" rx="0.8"/>
<text x="456.5" y="617.62" font-size="5.6" text-anchor="middle" fill="#2a2a2a" color="#2a2a2a" class="s">insTATC</text>
<rect x="445.50" y="619.39" width="12.50" height="6.40" fill="#fff" stroke="#555" stroke-width="0.55" rx="0.8"/>
<text x="451.75" y="624.5899999999999" font-size="5.6" text-anchor="middle" fill="#2a2a2a" color="#2a2a2a" class="s">insA</text>
<rect x="445.50" y="647.27" width="25.70" height="6.40" fill="#fff" stroke="#555" stroke-width="0.55" rx="0.8"/>
<text x="458.35" y="652.4699999999999" font-size="5.6" text-anchor="middle" fill="#2a2a2a" color="#2a2a2a" class="s">dupAAAA</text>
<rect x="428.20" y="662.60" width="13.70" height="3.20" fill="#111"/>
<text x="445.6" y="666.2" font-size="5.2" fill="#2a2a2a" color="#2a2a2a" class="s">10 bp</text>
<rect x="188.00" y="661.30" width="29.50" height="6.30" fill="#fff" stroke="#555" stroke-width="0.5" rx="0.8"/>
<line x1="202.70" y1="661.00" x2="202.70" y2="672.50" stroke="#111" stroke-width="1.15"/>
<text x="202.8" y="666.5" font-size="5.6" text-anchor="middle" fill="#2a2a2a" color="#2a2a2a" class="s">c.5946delT</text>
<polygon points="151.3,671.4 471.6,671.4 308.8,695.6 304.3,695.6" fill="#e9e9e9"/>
<line x1="151.30" y1="671.10" x2="471.60" y2="671.10" stroke="#5a5a5a" stroke-width="0.9"/>
<line x1="208.75" y1="671.20" x2="208.75" y2="673.20" stroke="#555" stroke-width="0.6"/>
<text x="208.75" y="680.4" font-size="6.8" text-anchor="middle" fill="#2a2a2a" color="#2a2a2a" class="s">5,950</text>
<line x1="281.40" y1="671.20" x2="281.40" y2="673.20" stroke="#555" stroke-width="0.6"/>
<text x="281.4" y="680.4" font-size="6.8" text-anchor="middle" fill="#2a2a2a" color="#2a2a2a" class="s">6,000</text>
<line x1="354.30" y1="671.20" x2="354.30" y2="673.20" stroke="#555" stroke-width="0.6"/>
<text x="354.3" y="680.4" font-size="6.8" text-anchor="middle" fill="#2a2a2a" color="#2a2a2a" class="s">6,050</text>
<line x1="427.30" y1="671.20" x2="427.30" y2="673.20" stroke="#555" stroke-width="0.6"/>
<text x="427.3" y="680.4" font-size="6.8" text-anchor="middle" fill="#2a2a2a" color="#2a2a2a" class="s">6,100</text>
<line x1="105.00" y1="697.60" x2="457.70" y2="697.60" stroke="#222" stroke-width="0.9"/>
<line x1="105.00" y1="701.10" x2="457.70" y2="701.10" stroke="#3c3c3c" stroke-width="0.95"/>
<rect x="213.80" y="695.40" width="102.30" height="4.30" fill="#E64B35" rx="0.8"/>
<rect x="304.30" y="695.40" width="4.50" height="4.30" fill="#f6c4bb"/>
<rect x="370.00" y="695.40" width="12.50" height="4.30" fill="#4DBBD5" rx="1"/>
<rect x="405.80" y="695.40" width="12.90" height="4.30" fill="#4DBBD5" rx="1"/>
<rect x="425.50" y="695.40" width="6.80" height="4.30" fill="#00A087" rx="1"/>
<text x="265.5" y="692.1" font-size="6.75" text-anchor="middle" fill="#e8674f" color="#e8674f" class="s">BRC repeats</text>
<text x="392.6" y="691.9" font-size="6.75" text-anchor="middle" fill="#56bcd8" color="#56bcd8" class="s">OB-folds</text>
<text x="429.5" y="691.9" font-size="6.5" text-anchor="middle" fill="#17a085" color="#17a085" class="s">TR2</text>
<line x1="121.00" y1="701.10" x2="121.00" y2="703.30" stroke="#3c3c3c" stroke-width="0.7"/>
<text x="121" y="709.3" font-size="6.8" text-anchor="middle" fill="#2a2a2a" color="#2a2a2a" class="s">1</text>
<line x1="199.20" y1="701.10" x2="199.20" y2="703.30" stroke="#3c3c3c" stroke-width="0.7"/>
<text x="199.2" y="709.3" font-size="6.8" text-anchor="middle" fill="#2a2a2a" color="#2a2a2a" class="s">2,500</text>
<line x1="276.20" y1="701.10" x2="276.20" y2="703.30" stroke="#3c3c3c" stroke-width="0.7"/>
<text x="276.2" y="709.3" font-size="6.8" text-anchor="middle" fill="#2a2a2a" color="#2a2a2a" class="s">5,000</text>
<line x1="353.80" y1="701.10" x2="353.80" y2="703.30" stroke="#3c3c3c" stroke-width="0.7"/>
<text x="353.8" y="709.3" font-size="6.8" text-anchor="middle" fill="#2a2a2a" color="#2a2a2a" class="s">7,500</text>
<line x1="432.50" y1="701.10" x2="432.50" y2="703.30" stroke="#3c3c3c" stroke-width="0.7"/>
<text x="432.5" y="709.3" font-size="6.8" text-anchor="middle" fill="#2a2a2a" color="#2a2a2a" class="s">10,000</text>
<text x="281.9" y="720" font-size="9" text-anchor="middle" fill="#2a2a2a" color="#2a2a2a"><tspan font-style="italic">BRCA2</tspan> CDS position</text>
<text transform="translate(67,618.5) rotate(-90)" font-size="9.1" text-anchor="middle" fill="#2a2a2a" color="#2a2a2a">Case</text>
</g>
</svg></body></html>
